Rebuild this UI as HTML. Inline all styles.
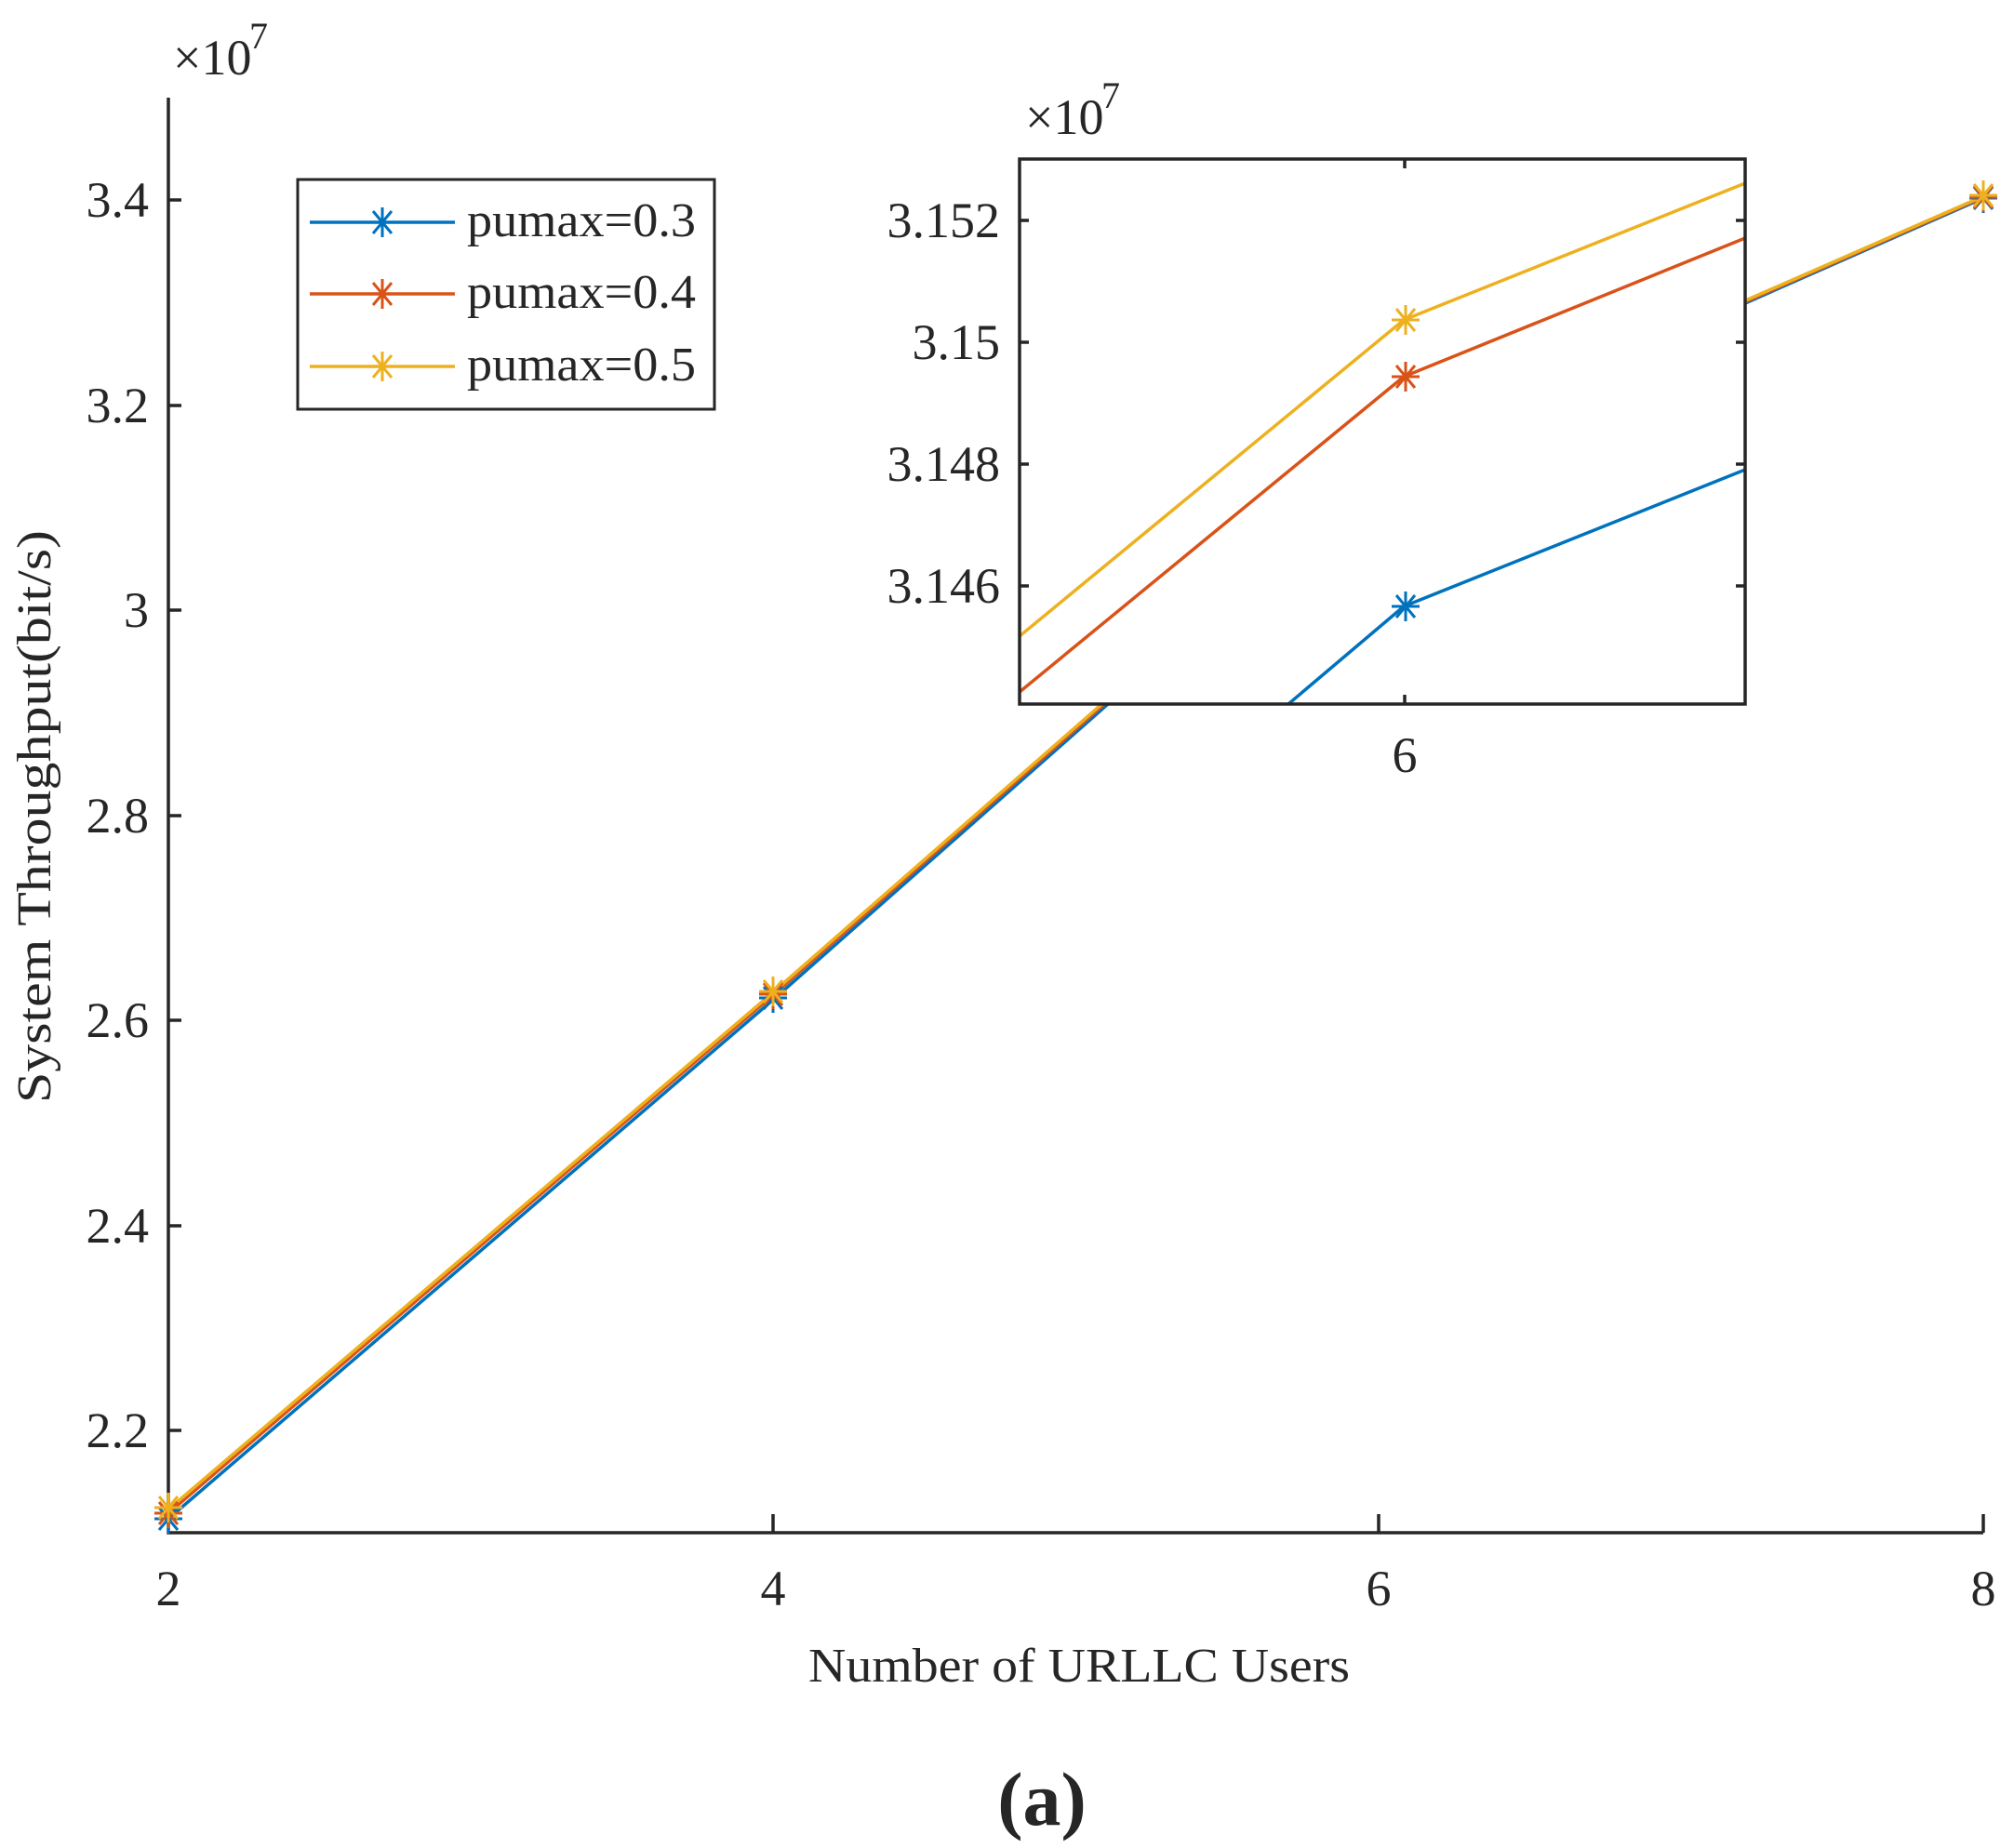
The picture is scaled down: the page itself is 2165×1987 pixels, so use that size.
<!DOCTYPE html>
<html><head><meta charset="utf-8"><style>
html,body{margin:0;padding:0;background:#fff;}
svg{display:block;}
text{font-family:"Liberation Serif",serif;fill:#262626;}
</style></head><body>
<svg width="2165" height="1987" viewBox="0 0 2165 1987" xmlns="http://www.w3.org/2000/svg">
<defs>
<g id="ast"><path d="M-15,0H15M0,-16V16M-10,-12L10,12M-10,12L10,-12" stroke-width="3" fill="none"/></g>
</defs>
<!-- main axes -->
<g stroke="#262626" stroke-width="3.5" fill="none">
<path d="M181,105V1648H2132"/>
<path d="M181,215h14M181,436h14M181,656h14M181,877h14M181,1097h14M181,1318h14M181,1538h14"/>
<path d="M831,1648v-20M1482,1648v-20M2132,1648v-20"/>
</g>
<g font-size="54" text-anchor="end">
<text x="160" y="233">3.4</text>
<text x="160" y="454">3.2</text>
<text x="160" y="674">3</text>
<text x="160" y="895">2.8</text>
<text x="160" y="1115">2.6</text>
<text x="160" y="1336">2.4</text>
<text x="160" y="1556">2.2</text>
</g>
<g font-size="54" text-anchor="middle">
<text x="181" y="1726">2</text>
<text x="831" y="1726">4</text>
<text x="1482" y="1726">6</text>
<text x="2132" y="1726">8</text>
</g>
<text x="186" y="80" font-size="54">×10</text>
<text x="268" y="52" font-size="40">7</text>
<text x="1160" y="1808" font-size="52" text-anchor="middle" textLength="582" lengthAdjust="spacingAndGlyphs">Number of URLLC Users</text>
<text transform="translate(54,878) rotate(-90)" font-size="52" text-anchor="middle" textLength="616" lengthAdjust="spacingAndGlyphs">System Throughput(bit/s)</text>
<text x="1120" y="1962" font-size="82" font-weight="bold" text-anchor="middle">(a)</text>

<!-- main series -->
<g fill="none" stroke-width="3.5">
<polyline stroke="#0072BD" points="181,1633 831,1075 1482,500 2132,213"/>
<polyline stroke="#D95319" points="181,1627 831,1070 1482,498 2132,212"/>
<polyline stroke="#EDB120" points="181,1623 831,1067 1482,496 2132,211"/>
</g>
<use href="#ast" x="181" y="1633" stroke="#0072BD"/>
<use href="#ast" x="181" y="1627" stroke="#D95319"/>
<use href="#ast" x="181" y="1621" stroke="#EDB120"/>
<use href="#ast" x="831" y="1073" stroke="#0072BD"/>
<use href="#ast" x="831" y="1069" stroke="#D95319"/>
<use href="#ast" x="831" y="1066" stroke="#EDB120"/>
<use href="#ast" x="2132" y="213" stroke="#0072BD"/>
<use href="#ast" x="2132" y="212" stroke="#D95319"/>
<use href="#ast" x="2132" y="210" stroke="#EDB120"/>

<!-- legend -->
<rect x="320" y="193" width="448" height="247" fill="#fff" stroke="#262626" stroke-width="3"/>
<g stroke-width="3.5">
<path d="M333,239H489" stroke="#0072BD"/>
<path d="M333,316H489" stroke="#D95319"/>
<path d="M333,394H489" stroke="#EDB120"/>
</g>
<use href="#ast" x="411" y="239" stroke="#0072BD"/>
<use href="#ast" x="411" y="316" stroke="#D95319"/>
<use href="#ast" x="411" y="394" stroke="#EDB120"/>
<g font-size="52" style="fill:#000">
<text x="502" y="254" textLength="246" lengthAdjust="spacingAndGlyphs">pumax=0.3</text>
<text x="502" y="331" textLength="246" lengthAdjust="spacingAndGlyphs">pumax=0.4</text>
<text x="502" y="409" textLength="246" lengthAdjust="spacingAndGlyphs">pumax=0.5</text>
</g>

<!-- inset -->
<rect x="1096" y="171" width="780" height="586" fill="#fff"/>
<svg x="1096" y="171" width="780" height="586" viewBox="1096 171 780 586">
<g fill="none" stroke-width="3.5">
<polyline stroke="#EDB120" points="1096,684 1509,344 1876,197"/>
<polyline stroke="#D95319" points="1096,744 1509,405 1876,256"/>
<polyline stroke="#0072BD" points="1385,757 1509,652 1876,505"/>
</g>
<use href="#ast" x="1511" y="344" stroke="#EDB120"/>
<use href="#ast" x="1511" y="405" stroke="#D95319"/>
<use href="#ast" x="1511" y="652" stroke="#0072BD"/>
</svg>
<g stroke="#262626" stroke-width="3.5" fill="none">
<rect x="1096" y="171" width="780" height="586"/>
<path d="M1096,237h10M1096,368h10M1096,499h10M1096,630h10M1876,237h-10M1876,368h-10M1876,499h-10M1876,630h-10M1510,171v10M1510,757v-10"/>
</g>
<g font-size="54" text-anchor="end">
<text x="1075" y="255">3.152</text>
<text x="1075" y="386">3.15</text>
<text x="1075" y="517">3.148</text>
<text x="1075" y="648">3.146</text>
</g>
<text x="1510" y="830" font-size="54" text-anchor="middle">6</text>
<text x="1102" y="144" font-size="54">×10</text>
<text x="1184" y="116" font-size="40">7</text>
</svg>
</body></html>
